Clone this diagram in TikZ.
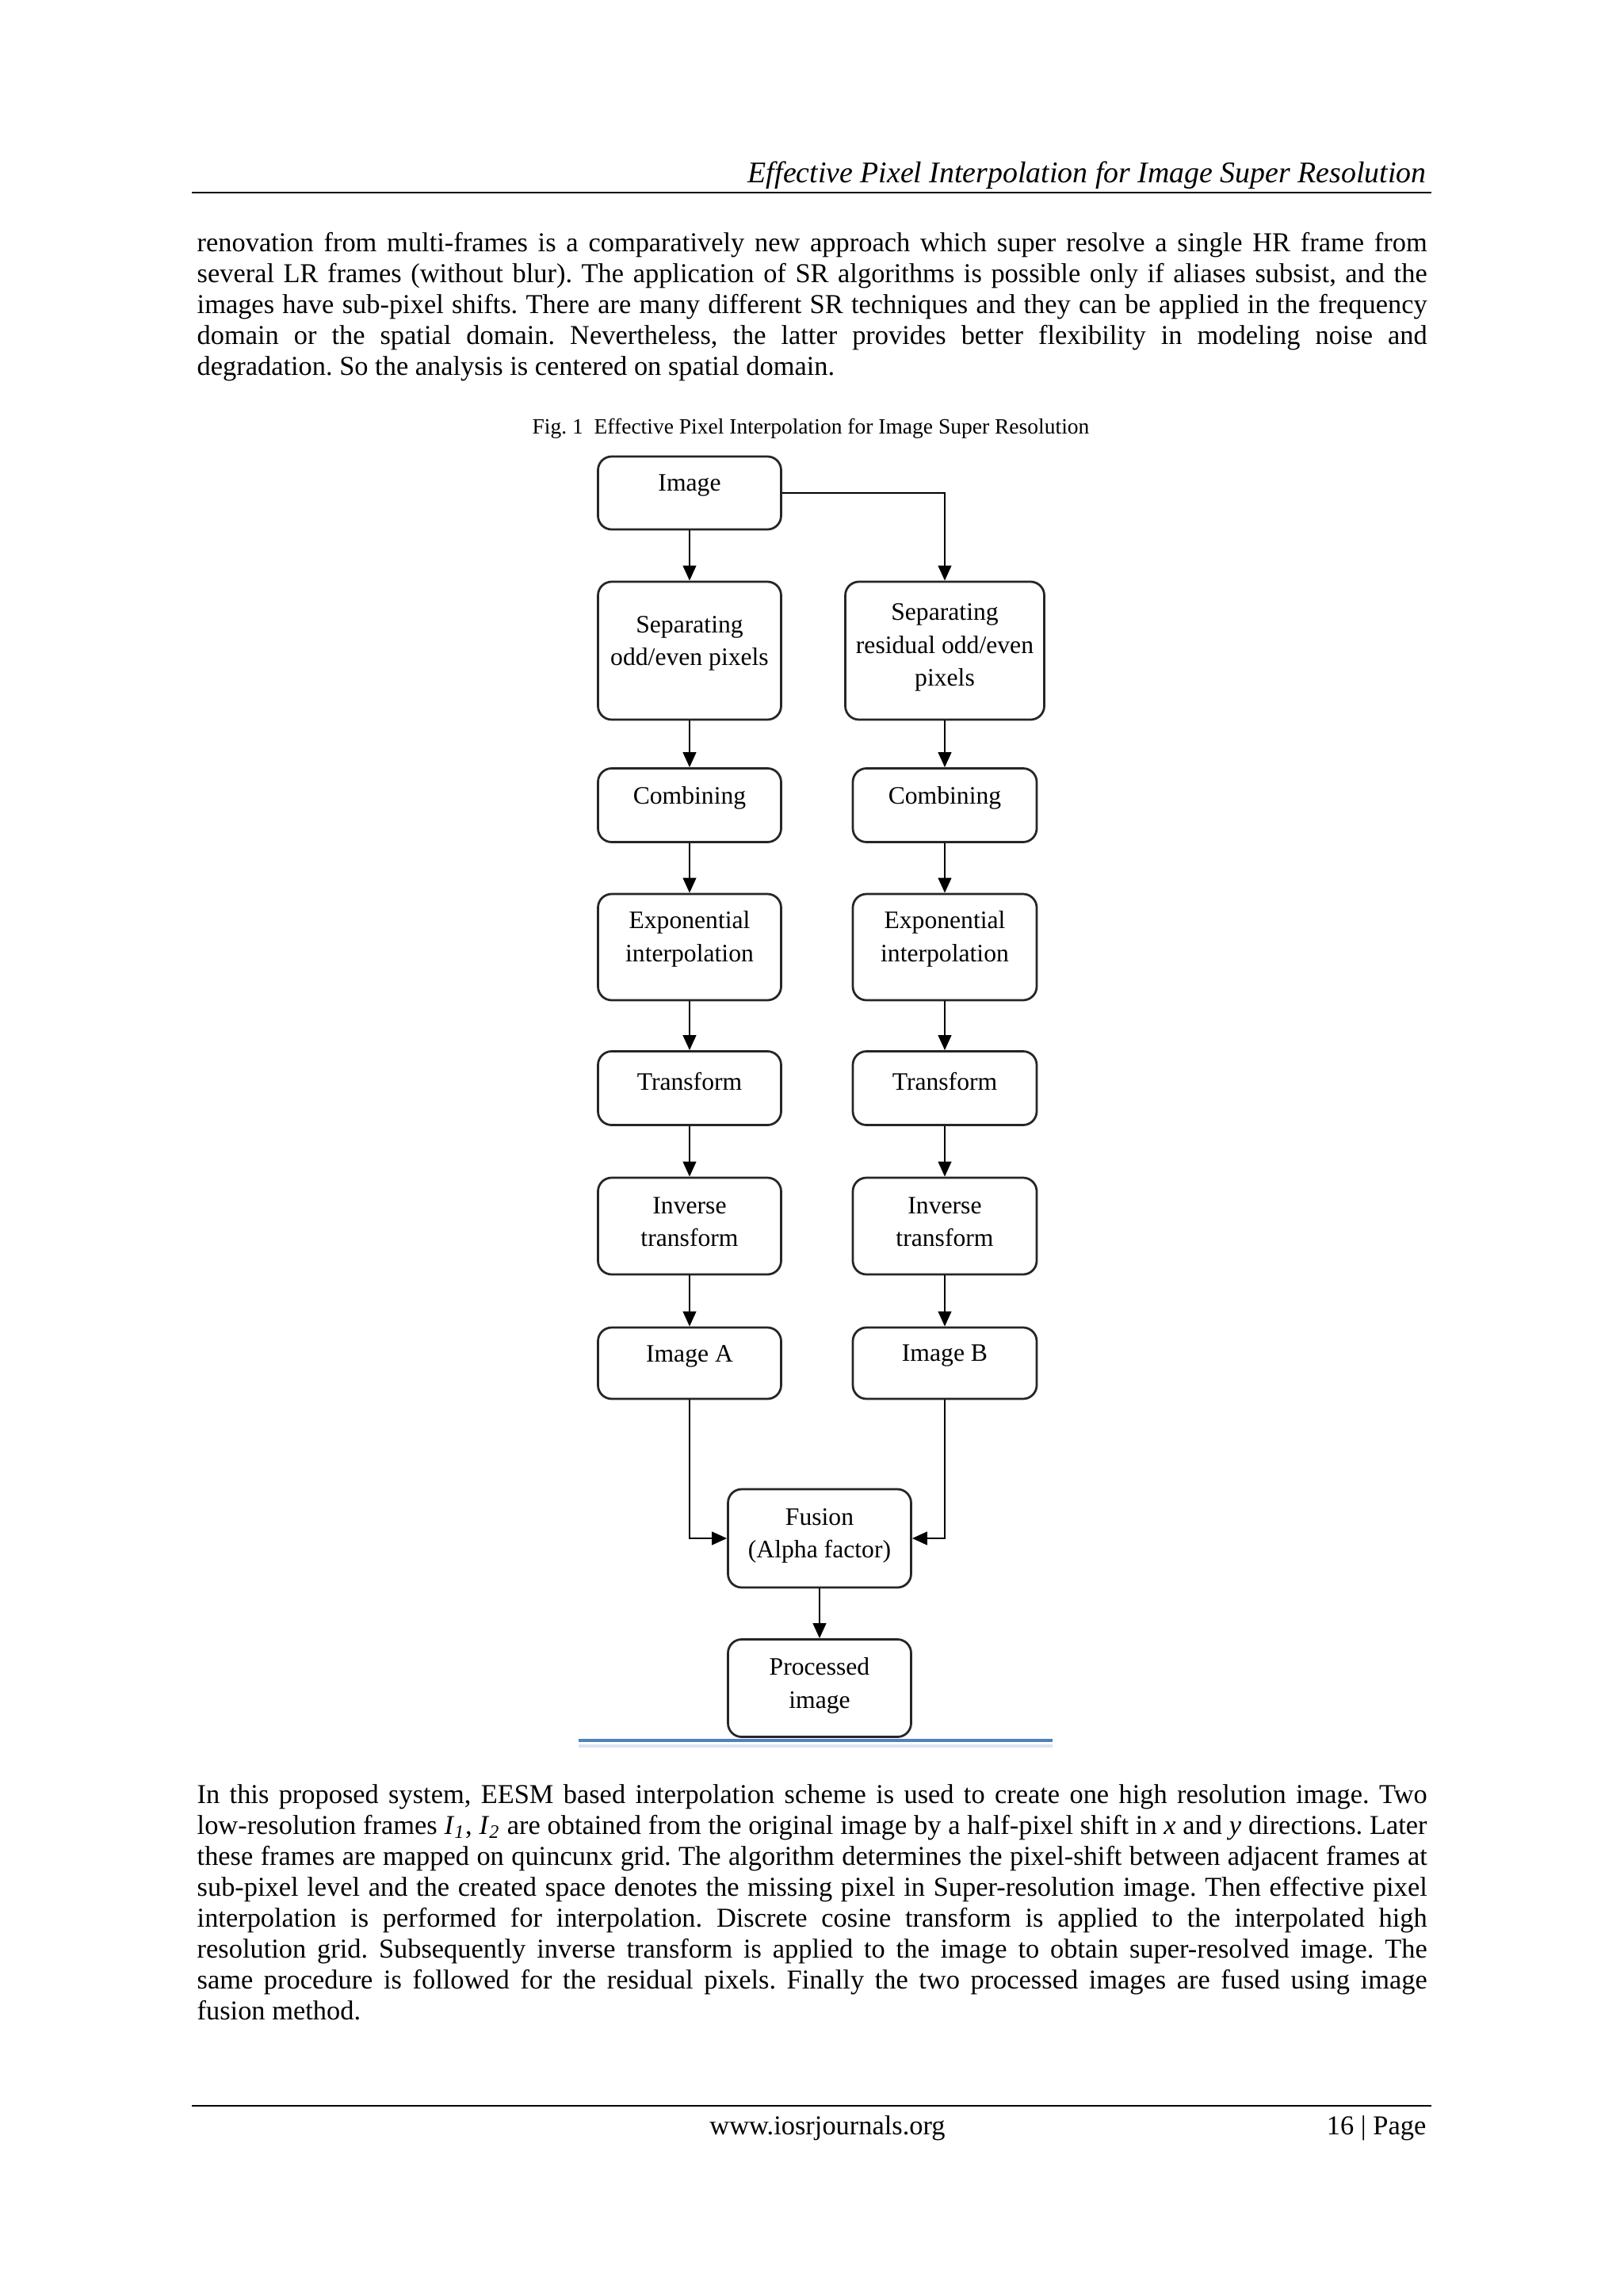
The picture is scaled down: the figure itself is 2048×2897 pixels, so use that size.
\documentclass[tikz,border=0pt]{standalone}
\usepackage{fontspec}
\setmainfont{Liberation Serif}
\usetikzlibrary{arrows.meta}
\frenchspacing
\newcommand\pxl{0.29066pt}
\newdimen\tw
\tw=451.1pt
\definecolor{rulelightblue}{RGB}{219,229,241}
\definecolor{ruleblue}{RGB}{79,129,189}
\tikzset{
  fbox/.style={draw=black!85, line width=0.8pt, rounded corners=5pt, fill=white, inner sep=0pt},
  ftext/.style={align=center, font=\fontsize{9.2}{12}\selectfont, inner sep=0pt},
  flow/.style={draw=black, line width=0.7pt, -{Triangle[length=5.5pt,width=4.8pt]}},
  bodytext/.style={inner sep=0pt, font=\fontsize{10}{11.34}\selectfont},
  pagerule/.style={line width=0.8pt, black},
}
\newcommand\fnode[7]{%
  \node[fbox, minimum width=#4*\pxl, minimum height=#5*\pxl] (#1) at (#2,#3) {};
  \node[ftext] (#1t) at ([yshift=#6*\pxl]#1.center) {#7};}
\begin{document}
\begin{tikzpicture}[x=0.29066pt, y=-0.29066pt]
\fill[white] (0,0) rectangle (2048,2897);
\useasboundingbox (0,0) rectangle (2048,2897);

% header
\node[inner sep=0pt, font=\fontsize{11}{13}\selectfont\itshape, anchor=base east] (header) at (1800,230) {Effective Pixel Interpolation for Image Super Resolution};
\draw[pagerule] (242,243) -- (1806,243);

% first paragraph
\node[bodytext, anchor=base west] (para1) at (248,317) {\vtop{%
\hbox to\tw{renovation from multi-frames is a comparatively new approach which super resolve a single HR frame from}
\hbox to\tw{several LR frames (without blur). The application of SR algorithms is possible only if aliases subsist, and the}
\hbox to\tw{images have sub-pixel shifts. There are many different SR techniques and they can be applied in the frequency}
\hbox to\tw{domain or the spatial domain. Nevertheless, the latter provides better flexibility in modeling noise and}
\hbox{degradation. So the analysis is centered on spatial domain.}}};

% caption
\node[inner sep=0pt, font=\fontsize{8}{10}\selectfont, anchor=base] (caption) at (1023,547) {Fig. 1\enspace Effective Pixel Interpolation for Image Super Resolution};

% flowchart boxes
\fnode{img}{870}{622}{231}{92}{9}{Image}
\fnode{sepL}{870}{821}{231}{174}{9}{Separating\\odd/even pixels}
\fnode{sepR}{1192}{821}{251}{174}{4}{Separating\\residual odd/even\\pixels}
\fnode{combL}{870}{1016}{231}{93}{9}{Combining}
\fnode{combR}{1192}{1016}{232}{93}{9}{Combining}
\fnode{expL}{870}{1195}{231}{134}{10}{Exponential\\interpolation}
\fnode{expR}{1192}{1195}{232}{134}{10}{Exponential\\interpolation}
\fnode{trL}{870}{1373}{231}{93}{9}{Transform}
\fnode{trR}{1192}{1373}{232}{93}{9}{Transform}
\fnode{invL}{870}{1547}{231}{122}{5}{Inverse\\transform}
\fnode{invR}{1192}{1547}{232}{122}{5}{Inverse\\transform}
\fnode{imA}{870}{1720}{231}{90}{9}{Image A}
\fnode{imB}{1192}{1720}{232}{90}{9}{Image B}
\fnode{fus}{1034}{1941}{231}{124}{3}{Fusion\\(Alpha factor)}
\fnode{proc}{1034}{2130}{231}{123}{3}{Processed\\image}

% connectors
\draw[flow] (img) -- (sepL);
\draw[flow] (img.east) -| (sepR.north);
\draw[flow] (sepL) -- (combL);
\draw[flow] (combL) -- (expL);
\draw[flow] (expL) -- (trL);
\draw[flow] (trL) -- (invL);
\draw[flow] (invL) -- (imA);
\draw[flow] (sepR) -- (combR);
\draw[flow] (combR) -- (expR);
\draw[flow] (expR) -- (trR);
\draw[flow] (trR) -- (invR);
\draw[flow] (invR) -- (imB);
\draw[flow] (imA.south) |- (fus.west);
\draw[flow] (imB.south) |- (fus.east);
\draw[flow] (fus) -- (proc);

% blue rule under figure
\draw[ruleblue, line width=0.9pt] (730,2196) -- (1328,2196);
\draw[rulelightblue, line width=1.4pt] (730,2203) -- (1328,2203);

% second paragraph
\node[bodytext, anchor=base west] (para2) at (248,2275) {\vtop{%
\hbox to\tw{In this proposed system, EESM based interpolation scheme is used to create one high resolution image. Two}
\hbox to\tw{low-resolution frames \textit{I}\textsubscript{\textit{1}}, \textit{I}\textsubscript{\textit{2}} are obtained from the original image by a half-pixel shift in \textit{x} and \textit{y} directions. Later}
\hbox to\tw{these frames are mapped on quincunx grid. The algorithm determines the pixel-shift between adjacent frames at}
\hbox to\tw{sub-pixel level and the created space denotes the missing pixel in Super-resolution image. Then effective pixel}
\hbox to\tw{interpolation is performed for interpolation. Discrete cosine transform is applied to the interpolated high}
\hbox to\tw{resolution grid. Subsequently inverse transform is applied to the image to obtain super-resolved image. The}
\hbox to\tw{same procedure is followed for the residual pixels. Finally the two processed images are fused using image}
\hbox{fusion method.}}};

% footer
\draw[pagerule] (242,2657) -- (1806,2657);
\node[inner sep=0pt, font=\fontsize{10}{12}\selectfont, anchor=base] (site) at (1044,2693) {www.iosrjournals.org};
\node[inner sep=0pt, font=\fontsize{10}{12}\selectfont, anchor=base east] (page) at (1800,2693) {16 | Page};
\end{tikzpicture}
\end{document}
